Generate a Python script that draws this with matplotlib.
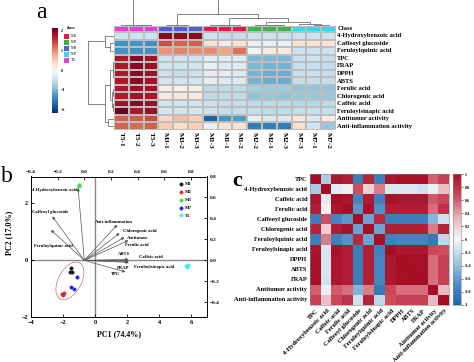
import numpy as np
import matplotlib
matplotlib.use('Agg')
import matplotlib.pyplot as plt
from matplotlib.colors import ListedColormap, LinearSegmentedColormap, Normalize
from matplotlib.patches import Ellipse, Rectangle
from matplotlib.transforms import ScaledTranslation
import matplotlib.cm as cm

plt.rcParams['font.family'] = ['Liberation Serif', 'DejaVu Serif']
plt.rcParams['font.weight'] = 'bold'

# ---------------- data: panel a (z-scored heatmap) ----------------
heat_rows = ['4-Hydroxybenzoic acid', 'Caffeoyl glucoside', 'Feruloylquinic acid', 'TPC', 'FRAP',
             'DPPH', 'ABTS', 'Ferulic acid', 'Chlorogenic acid', 'Caffeic acid',
             'Feruloylsinapic acid', 'Antitumor activity', 'Anti-inflammation activity']
heat_cols = ['T5-1', 'T5-2', 'T5-3', 'M3-1', 'M3-2', 'M3-3', 'M1-3', 'M1-1', 'M1-2',
             'M2-2', 'M2-1', 'M2-3', 'M7-3', 'M7-1', 'M7-2']
heat_class = ['T5', 'T5', 'T5', 'M3', 'M3', 'M3', 'M1', 'M1', 'M1',
              'M2', 'M2', 'M2', 'M7', 'M7', 'M7']
heat_vals = [
    [-0.5, -0.5, -0.5, 1.95, 1.9, 1.95, -0.5, -0.55, -0.55, -0.5, -0.5, -0.5, -0.5, -0.5, -0.5],
    [-1.35, -1.3, -1.35, 1.4, 1.25, 1.3, 0.3, 0.15, 0.3, -0.2, -0.2, -0.2, 0.3, 0.3, 0.3],
    [-1.35, -1.35, -1.35, 0.95, 1.05, 1.0, 1.0, 0.85, 1.15, -0.1, 0.15, 0.2, -0.5, -0.5, -0.5],
    [1.75, 1.95, 1.8, -0.5, -0.45, -0.5, -0.25, -0.3, -0.3, -1.0, -1.0, -1.0, -0.55, -0.5, -0.55],
    [1.75, 1.95, 1.85, -0.45, -0.45, -0.45, -0.2, -0.3, -0.3, -1.0, -1.05, -1.05, -0.55, -0.55, -0.55],
    [1.75, 1.95, 1.85, -0.5, -0.55, -0.5, -0.25, -0.25, -0.3, -1.05, -1.1, -1.1, -0.55, -0.5, -0.55],
    [1.75, 1.95, 1.8, -0.45, -0.45, -0.45, -0.25, -0.3, -0.3, -1.05, -1.1, -1.1, -0.55, -0.55, -0.55],
    [1.75, 1.85, 1.8, 0.1, 0.1, 0.1, -0.6, -0.6, -0.6, -0.75, -0.8, -0.8, -0.9, -0.9, -0.9],
    [1.7, 1.8, 1.75, 0.2, 0.25, 0.2, -0.6, -0.6, -0.6, -0.9, -0.85, -0.9, -0.85, -0.85, -0.85],
    [1.8, 1.95, 1.85, -0.45, -0.45, -0.45, -0.5, -0.55, -0.55, -0.6, -0.6, -0.6, -0.65, -0.65, -0.6],
    [2.1, 1.75, 1.85, -0.4, -0.45, -0.4, -0.5, -0.55, -0.55, -0.55, -0.6, -0.6, -0.55, -0.55, -0.55],
    [1.3, 1.3, 1.4, 0.45, 0.65, 0.55, -1.8, -1.3, -1.25, -0.2, -0.35, -0.35, 0.25, -0.35, 0.15],
    [1.25, 1.2, 1.3, 0.55, 0.35, 0.5, -0.2, 0.3, 0.35, -1.55, -1.55, -1.55, 0.35, -0.45, -0.85],
]
class_names = ['M1', 'M2', 'M3', 'M7', 'T5']
class_colors = ['#e3174c', '#3cb44b', '#4d5fd2', '#40d0f0', '#e040dc']

# dendrograms: (left, right, merge height in px); leaves are display indices
col_tree = ((0, (1, 2, 0.6), 1.1),
            ((3, (4, 5, 0.5), 1.0),
             (((6, 7, 0.7), 8, 1.3),
              ((9, (10, 11, 0.6), 1.2), (12, (13, 14, 0.9), 1.6), 4.3), 7.7), 11.7), 32)
row_tree = ((0, (1, 2, 4.0), 9.0),
            ((((3, 4, 0.5), (5, 6, 0.5), 1.2), ((7, 8, 1.5), (9, 10, 1.5), 2.5), 4.0),
             (11, 12, 6.0), 9.0), 25.7)

# ---------------- data: panel b (PCA biplot) ----------------
pc1_label = 'PC1 (74.4%)'
pc2_label = 'PC2 (17.0%)'
score_groups = ['M1', 'M2', 'M3', 'M7', 'T5']
score_colors = ['#111111', '#e8262b', '#44dd44', '#2020e0', '#40f0f0']
score_x = [[-1.50, -1.58, -1.42], [-2.04, -1.92, -1.98], [-1.02, -0.98, -1.00],
           [-1.10, -1.52, -1.33], [5.70, 5.80, 5.75]]
score_y = [[-0.28, -0.40, -0.40], [-1.20, -1.15, -1.24], [2.62, 2.66, 2.64],
           [-0.58, -0.96, -1.03], [-0.22, -0.17, -0.25]]
load_names = ['4-Hydroxybenzoic acid', 'Caffeoyl glucoside', 'Feruloylquinic acid',
              'Anti-inflammation', 'Chlorogenic acid', 'Antitumor', 'Ferulic acid',
              'ABTS', 'Caffeic acid', 'FRAP', 'Feruloylsinapic acid', 'TPC']
load_x = [-0.047, -0.24, -0.25, 0.247, 0.265, 0.30, 0.33, 0.33, 0.335, 0.33, 0.335, 0.307]
load_y = [0.69, 0.42, 0.29, 0.34, 0.26, 0.22, 0.19, 0.01, 0.0, -0.01, -0.02, -0.11]
# label offsets in image pixels (dx right, dy down) and alignment
load_offsets = [(-1, 2, 'right'), (-2, -4.5, 'center'), (2, 16, 'center'), (-3, -3, 'center'),
                (3, -2, 'left'), (3, 1, 'left'), (-3, 5, 'left'), (-4, -5, 'center'),
                (10, -3, 'left'), (-5, 6.5, 'center'), (5, 5, 'left'), (-10, 2.5, 'center')]

# ---------------- data: panel c (correlation) ----------------
corr_names = ['TPC', '4-Hydroxybenzoic acid', 'Caffeic acid', 'Ferulic acid', 'Caffeoyl glucoside',
              'Chlorogenic acid', 'Feruloylquinic acid', 'Feruloylsinapic acid', 'DPPH', 'ABTS',
              'FRAP', 'Antitumor activity', 'Anti-inflammation activity']
corr_vals = [
    [1.00, -0.30, 0.95, 0.90, -0.80, 0.88, -0.80, 0.96, 0.99, 0.99, 0.99, 0.60, 0.72],
    [-0.30, 1.00, -0.08, 0.05, 0.65, 0.20, 0.50, -0.12, -0.12, -0.12, -0.15, -0.05, 0.28],
    [0.95, -0.08, 1.00, 0.96, -0.75, 0.92, -0.78, 0.97, 0.95, 0.95, 0.95, 0.62, 0.68],
    [0.90, 0.05, 0.96, 1.00, -0.62, 0.98, -0.65, 0.92, 0.92, 0.92, 0.92, 0.55, 0.80],
    [-0.80, 0.65, -0.75, -0.62, 1.00, -0.55, 0.85, -0.80, -0.80, -0.80, -0.80, -0.45, -0.15],
    [0.88, 0.20, 0.92, 0.98, -0.55, 1.00, -0.55, 0.90, 0.90, 0.90, 0.90, 0.50, 0.88],
    [-0.80, 0.50, -0.78, -0.65, 0.85, -0.55, 1.00, -0.78, -0.75, -0.75, -0.75, -0.85, -0.22],
    [0.96, -0.12, 0.97, 0.92, -0.80, 0.90, -0.78, 1.00, 0.95, 0.95, 0.95, 0.68, 0.65],
    [0.99, -0.12, 0.95, 0.92, -0.80, 0.90, -0.75, 0.95, 1.00, 0.99, 0.99, 0.55, 0.72],
    [0.99, -0.12, 0.95, 0.92, -0.80, 0.90, -0.75, 0.95, 0.99, 1.00, 0.99, 0.55, 0.72],
    [0.99, -0.15, 0.95, 0.92, -0.80, 0.90, -0.75, 0.95, 0.99, 0.99, 1.00, 0.55, 0.72],
    [0.60, -0.05, 0.62, 0.55, -0.45, 0.50, -0.85, 0.68, 0.55, 0.55, 0.55, 1.00, 0.30],
    [0.72, 0.28, 0.68, 0.80, -0.15, 0.88, -0.22, 0.65, 0.72, 0.72, 0.72, 0.30, 1.00],
]

W, H = 474, 362
fig = plt.figure(figsize=(W / 100, H / 100), dpi=100)


def box(l, t, r, b):
    # axes from pixel edges (left, top, right, bottom)
    return fig.add_axes([l / W, 1 - b / H, (r - l) / W, (b - t) / H])


def draw_tree(ax, node, horizontal):
    if isinstance(node, int):
        return node + 0.5, 0.0
    left, right, h = node
    pl, hl = draw_tree(ax, left, horizontal)
    pr, hr = draw_tree(ax, right, horizontal)
    ps = [pl, pl, pr, pr]
    hs = [hl, h, h, hr]
    if horizontal:
        ax.plot(hs, ps, color='#707070', lw=0.6)
    else:
        ax.plot(ps, hs, color='#707070', lw=0.6)
    return (pl + pr) / 2, h


# ================= panel a =================
cmap_a = plt.get_cmap('RdBu_r')
norm_a = Normalize(vmin=-2.2, vmax=2.15)
nr, nc = len(heat_rows), len(heat_cols)

ax_h = box(114, 32, 336, 130)
ax_h.pcolormesh(np.array(heat_vals), cmap=cmap_a, norm=norm_a,
                edgecolors='#bdbdbd', linewidth=0.3)
ax_h.set_xlim(0, nc)
ax_h.set_ylim(nr, 0)
ax_h.axis('off')
for i, name in enumerate(heat_rows):
    ax_h.text(nc + 0.08, i + 0.5, name, ha='left', va='center', fontsize=4.7,
              fontweight='bold', clip_on=False)
for j, name in enumerate(heat_cols):
    ax_h.text(j + 0.5, nr + 0.2, name, ha='center', va='top', rotation=270,
              fontsize=5.3, fontweight='bold', clip_on=False)

ax_cl = box(114, 26, 336, 32)
cls_idx = np.array([[class_names.index(c) for c in heat_class]])
ax_cl.pcolormesh(cls_idx, cmap=ListedColormap(class_colors), vmin=-0.5, vmax=4.5,
                 edgecolors='#bdbdbd', linewidth=0.3)
ax_cl.set_xlim(0, nc)
ax_cl.axis('off')
ax_cl.text(nc + 0.08, 0.5, 'Class', ha='left', va='center', fontsize=4.7, fontweight='bold')

ax_cd = box(114, 0, 336, 26)
draw_tree(ax_cd, col_tree, horizontal=False)
ax_cd.set_xlim(0, nc)
ax_cd.set_ylim(0, 26)
ax_cd.axis('off')

ax_rd = box(80, 32, 114, 130)
draw_tree(ax_rd, row_tree, horizontal=True)
ax_rd.set_xlim(34, 0)
ax_rd.set_ylim(nr, 0)
ax_rd.axis('off')

cax_a = box(52, 28, 58, 113)
cb_a = fig.colorbar(cm.ScalarMappable(norm=norm_a, cmap=cmap_a), cax=cax_a, ticks=[-2, -1, 0, 1, 2])
cb_a.outline.set_visible(False)
cax_a.tick_params(labelsize=3, length=0, pad=2)

# class legend
ax_lg = box(60, 24, 90, 66)
ax_lg.set_xlim(60, 90)
ax_lg.set_ylim(66, 24)
ax_lg.axis('off')
ax_lg.text(67, 28, 'class', fontsize=3.2, fontweight='bold', va='center')
for k, (name, col) in enumerate(zip(class_names, class_colors)):
    y0 = 33.5 + k * 6
    ax_lg.add_patch(Rectangle((64, y0), 4.8, 5.6, color=col, lw=0))
    ax_lg.text(70.5, y0 + 2.8, name, fontsize=3.2, fontweight='normal', va='center')

fig.text(36 / W, 1 - 12 / H, 'a', fontsize=17, fontweight='normal', va='center')

# ================= panel b =================
ax_b = box(31, 176.5, 207, 317)
ax_b.axhline(0, color='#8a8a8a', lw=1.0, zorder=1)
ax_b.axvline(0, color='#8a8a8a', lw=1.0, zorder=1)
for name, col, xs, ys in zip(score_groups, score_colors, score_x, score_y):
    ax_b.scatter(xs, ys, s=6, color=col, edgecolors=col, linewidths=0.3, label=name, zorder=3)
ax_b.set_xlim(-4, 7)
ax_b.set_ylim(-2, 2.95)
ax_b.set_xticks([-4, -2, 0, 2, 4, 6])
ax_b.set_yticks([-2, 0, 2])
ax_b.tick_params(direction='in', length=2, width=0.6, labelsize=4.5, pad=2)
ax_b.set_xlabel(pc1_label, fontsize=5.8, fontweight='bold', labelpad=4)
ax_b.set_ylabel(pc2_label, fontsize=5.8, fontweight='bold', labelpad=3)
ax_b.yaxis.set_label_coords(-0.1, 0.6)
for sp in ax_b.spines.values():
    sp.set_linewidth(0.7)
ax_b.legend(loc='upper left', bbox_to_anchor=(0.82, 0.985), frameon=False, fontsize=3.4,
            handletextpad=0.3, labelspacing=0.75, borderpad=0.2, handlelength=1.0,
            markerscale=1.0)

# ellipse round the M1/M2/M7 cluster (drawn in inches, anchored at cluster centre)
cl_x = np.concatenate([score_x[0], score_x[1], score_x[3]])
cl_y = np.concatenate([score_y[0], score_y[1], score_y[3]])
ell = Ellipse((0, 0), 0.41, 0.23, angle=62,
              transform=fig.dpi_scale_trans + ScaledTranslation(cl_x.mean() + 0.03, cl_y.mean() + 0.08,
                                                                ax_b.transData),
              fill=False, ec='#e06666', lw=0.5)
ax_b.add_patch(ell)

ax_l = fig.add_axes(ax_b.get_position(), facecolor='none')
ax_l.set_xlim(-0.4, 0.92)
ax_l.set_ylim(-0.54, 0.8)
ax_l.xaxis.tick_top()
ax_l.yaxis.tick_right()
ax_l.set_xticks([-0.4, -0.2, 0.0, 0.2, 0.4, 0.6, 0.8])
ax_l.set_yticks([-0.4, -0.2, 0.0, 0.2, 0.4, 0.6, 0.8])
ax_l.tick_params(direction='in', length=2, width=0.6, labelsize=3.8, pad=2)
for sp in ax_l.spines.values():
    sp.set_visible(False)
for name, lx, ly, (dx, dy, ha) in zip(load_names, load_x, load_y, load_offsets):
    ax_l.annotate('', xy=(lx, ly), xytext=(0, 0),
                  arrowprops=dict(arrowstyle='-|>', lw=0.5, color='#555555',
                                  mutation_scale=4, shrinkA=0, shrinkB=0))
    ax_l.annotate(name, xy=(lx, ly), xytext=(dx * 0.72, -dy * 0.72), textcoords='offset points',
                  ha=ha, va='center', fontsize=3.3, fontweight='bold')

fig.text(1 / W, 1 - 176 / H, 'b', fontsize=17, fontweight='normal', va='center')

# ================= panel c =================
cmap_c = LinearSegmentedColormap.from_list(
    'corr', ['#2166ac', '#4f8fc6', '#a4c8e2', '#f7f7f7', '#eab3bc', '#cc4a5c', '#a50f26'])
n = len(corr_names)
ax_c = box(310, 174, 449, 305)
mesh = ax_c.pcolormesh(np.array(corr_vals), cmap=cmap_c, vmin=-1, vmax=1)
ax_c.set_xlim(0, n)
ax_c.set_ylim(n, 0)
ax_c.set_xticks([])
ax_c.set_yticks([])
for sp in ax_c.spines.values():
    sp.set_linewidth(0.4)
    sp.set_color('#888888')
for i, name in enumerate(corr_names):
    ax_c.text(-0.25, i + 0.5, name, ha='right', va='center', fontsize=4.6, fontweight='bold')
    ax_c.text(i + 0.6, n + 0.3, name, ha='right', va='top', rotation=45, rotation_mode='anchor',
              fontsize=4.6, fontweight='bold')

cax_c = box(453, 174, 461, 305)
cb_c = fig.colorbar(mesh, cax=cax_c, ticks=np.round(np.linspace(-1, 1, 11), 1))
cb_c.ax.set_yticklabels([f'{t:g}' for t in np.round(np.linspace(-1, 1, 11), 1)])
cb_c.outline.set_linewidth(0.4)
cb_c.outline.set_edgecolor('#888888')
cax_c.tick_params(labelsize=3, length=1.2, width=0.4, pad=1.5)

fig.text(232 / W, 1 - 181 / H, 'c', fontsize=16, fontweight='bold', va='center')

fig.savefig('out.png', dpi=100)
